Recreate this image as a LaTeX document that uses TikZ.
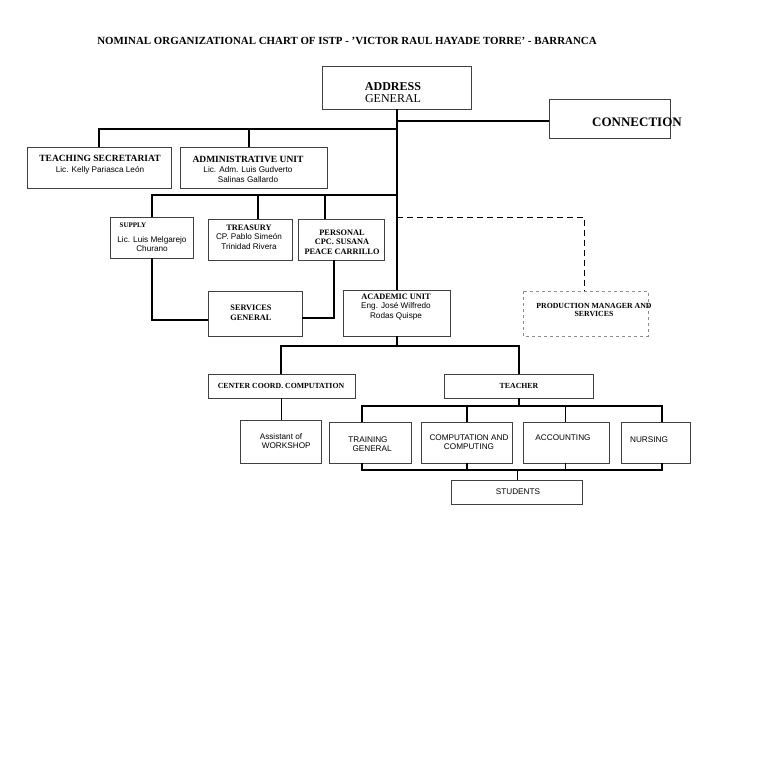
\documentclass[tikz,border=0pt]{standalone}
\usepackage{fontspec}
\setmainfont{Liberation Serif}
\newfontfamily\arialf{Liberation Sans}
\newcommand{\nmf}{\arialf\fontsize{8.2}{9.5}\selectfont}
\begin{document}
\begin{tikzpicture}[x=1pt,y=-1pt,
 bx/.style={draw=black!75,line width=0.8pt,inner sep=0pt},
 ln/.style={line width=1.1pt},
 hd/.style={align=center},
 sm/.style={font=\nmf,align=center}]
\useasboundingbox (0,0) rectangle (768,761);
\node[font=\fontsize{10.9}{12}\selectfont\bfseries] (title) at (347,41) {NOMINAL ORGANIZATIONAL CHART OF ISTP - 'VICTOR RAUL HAYADE TORRE' - BARRANCA};
% boxes
\draw[bx] (322,66) rectangle (471,109); \coordinate (adB) at (397,109);
\node[align=center,font=\fontsize{12}{12}\selectfont] (ad) at (393,93) {\textbf{ADDRESS}\\GENERAL};
\draw[bx] (549,99) rectangle (670,138); \coordinate (coL) at (549,121);
\node[font=\fontsize{13}{14}\selectfont\bfseries] (co) at (637,122) {CONNECTION};
\draw[bx] (27,147) rectangle (171,188);
\node[align=center] (ts) at (100,165) {\fontsize{9.5}{10}\selectfont\bfseries TEACHING SECRETARIAT\\[-1pt]\nmf Lic. Kelly Pariasca León};
\draw[bx] (180,147) rectangle (327,188);
\node[align=center] (au) at (248,169) {\fontsize{9.5}{10}\selectfont\bfseries ADMINISTRATIVE UNIT\\[-2pt]\nmf Lic. Adm. Luis Gudverto\\[-2pt]\nmf Salinas Gallardo};
\draw[bx] (110,217) rectangle (193,258);
\node[font=\fontsize{7}{8}\selectfont\bfseries] (su) at (133,225) {SUPPLY};
\node[sm] (sun) at (152,244) {Lic. Luis Melgarejo\\Churano};
\draw[bx] (208,219) rectangle (292,260);
\node[align=center] (tr) at (249,237) {\fontsize{8.3}{9}\selectfont\bfseries TREASURY\\[-2.5pt]\nmf CP. Pablo Simeón\\[-2.5pt]\nmf Trinidad Rivera};
\draw[bx] (298,219) rectangle (384,260);
\node[hd,font=\fontsize{8.3}{9.5}\selectfont\bfseries] (pe) at (342,242) {PERSONAL\\CPC. SUSANA\\PEACE CARRILLO};
\draw[bx] (208,291) rectangle (302,336);
\node[hd,font=\fontsize{8.3}{9.5}\selectfont\bfseries] (sg) at (251,313) {SERVICES\\GENERAL};
\draw[bx] (343,290) rectangle (450,336);
\node[align=center] (ac) at (396,307) {\fontsize{8.3}{9}\selectfont\bfseries ACADEMIC UNIT\\[-2.5pt]\nmf Eng. José Wilfredo\\[-2.5pt]\nmf Rodas Quispe};
\draw[bx,dashed,draw=black!45] (523,291) rectangle (648,336);
\node[hd,font=\fontsize{7.8}{8.5}\selectfont\bfseries] (pm) at (594,310) {PRODUCTION MANAGER AND\\SERVICES};
\draw[bx] (208,374) rectangle (355,398);
\node[hd,font=\fontsize{7.8}{9}\selectfont\bfseries] (cc) at (281,386) {CENTER COORD. COMPUTATION};
\draw[bx] (444,374) rectangle (593,398);
\node[hd,font=\fontsize{7.8}{9}\selectfont\bfseries] (te) at (519,386) {TEACHER};
\draw[bx] (240,420) rectangle (321,463);
\node[sm] (as) at (281,441) {Assistant of\\\quad\ WORKSHOP};
\draw[bx] (329,422) rectangle (411,463);
\node[sm] (tg) at (368,444) {TRAINING\\\quad GENERAL};
\draw[bx] (421,422) rectangle (512,463);
\node[sm] (cp) at (469,442) {COMPUTATION AND\\COMPUTING};
\draw[bx] (523,422) rectangle (609,463);
\node[sm] (acc) at (563,438) {ACCOUNTING};
\draw[bx] (621,422) rectangle (690,463);
\node[sm] (nu) at (649,440) {NURSING};
\draw[bx] (451,480) rectangle (582,504);
\node[sm] (st) at (518,492) {STUDENTS};
% connectors
\draw[ln] (adB) -- (397,290);
\draw[ln] (397,121) -- (coL);
\draw[ln] (99,147) |- (397,129); \draw[ln] (249,129) -- (249,147);
\draw[ln] (152,217) |- (397,195); \draw[ln] (258,195) -- (258,219); \draw[ln] (325,195) -- (325,219);
\draw[line width=0.9pt,dashed,dash pattern=on 6pt off 4pt] (397,217) -| (584,291);
\draw[ln] (152,258) |- (208,320);
\draw[ln] (334,260) |- (302,318);
\draw[ln] (397,336) -- (397,346);
\draw[ln] (281,374) |- (519,346) -- (519,374);
\draw[line width=0.7pt] (281,398) -- (281,420);
\draw[ln] (519,398) -- (519,406);
\draw[ln] (362,422) |- (662,406) -- (662,422);
\draw[ln] (467,406) -- (467,422); \draw[line width=0.7pt] (565,406) -- (565,422);
\draw[ln] (362,463) |- (662,470) -- (662,463);
\draw[ln] (467,463) -- (467,470); \draw[line width=0.7pt] (565,463) -- (565,470);
\draw[line width=0.7pt] (517,470) -- (517,480);
\end{tikzpicture}
\end{document}
